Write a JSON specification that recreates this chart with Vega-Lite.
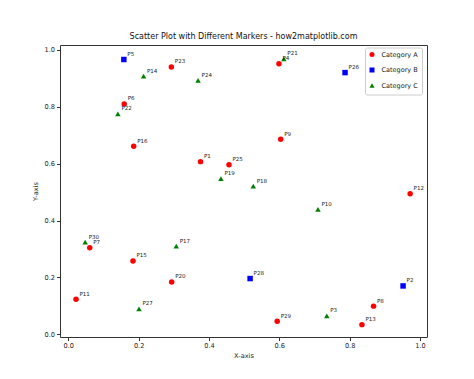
{
  "$schema": "https://vega.github.io/schema/vega-lite/v6.json",
  "autosize": "none",
  "width": 367,
  "height": 292,
  "padding": {"left": 60, "top": 45, "right": 47, "bottom": 42},
  "background": "white",
  "config": {
    "font": "DejaVu Sans",
    "view": {"stroke": "#333333", "strokeWidth": 1},
    "axis": {"grid": false, "domain": false, "tickColor": "#333333", "tickSize": 3.5, "labelFontSize": 6.6, "labelColor": "#222222", "titleFontSize": 6.6, "titleFontWeight": "normal", "titleColor": "#222222", "labelPadding": 2}
  },
  "title": {"text": "Scatter Plot with Different Markers - how2matplotlib.com", "fontSize": 8, "fontWeight": "normal", "color": "#111111", "offset": 4, "anchor": "middle"},
  "data": {"values": [
    {"label": "P1", "x": 0.376, "y": 0.607, "category": "Category A"},
    {"label": "P2", "x": 0.952, "y": 0.170, "category": "Category B"},
    {"label": "P3", "x": 0.735, "y": 0.065, "category": "Category C"},
    {"label": "P4", "x": 0.599, "y": 0.951, "category": "Category A"},
    {"label": "P5", "x": 0.158, "y": 0.966, "category": "Category B"},
    {"label": "P6", "x": 0.159, "y": 0.810, "category": "Category A"},
    {"label": "P7", "x": 0.061, "y": 0.304, "category": "Category A"},
    {"label": "P8", "x": 0.868, "y": 0.099, "category": "Category A"},
    {"label": "P9", "x": 0.604, "y": 0.686, "category": "Category A"},
    {"label": "P10", "x": 0.710, "y": 0.439, "category": "Category C"},
    {"label": "P11", "x": 0.022, "y": 0.123, "category": "Category A"},
    {"label": "P12", "x": 0.972, "y": 0.494, "category": "Category A"},
    {"label": "P13", "x": 0.835, "y": 0.034, "category": "Category A"},
    {"label": "P14", "x": 0.214, "y": 0.908, "category": "Category C"},
    {"label": "P15", "x": 0.184, "y": 0.258, "category": "Category A"},
    {"label": "P16", "x": 0.186, "y": 0.661, "category": "Category A"},
    {"label": "P17", "x": 0.307, "y": 0.310, "category": "Category C"},
    {"label": "P18", "x": 0.526, "y": 0.521, "category": "Category C"},
    {"label": "P19", "x": 0.434, "y": 0.547, "category": "Category C"},
    {"label": "P20", "x": 0.294, "y": 0.184, "category": "Category A"},
    {"label": "P21", "x": 0.613, "y": 0.968, "category": "Category C"},
    {"label": "P22", "x": 0.141, "y": 0.775, "category": "Category C"},
    {"label": "P23", "x": 0.293, "y": 0.940, "category": "Category A"},
    {"label": "P24", "x": 0.369, "y": 0.893, "category": "Category C"},
    {"label": "P25", "x": 0.457, "y": 0.596, "category": "Category A"},
    {"label": "P26", "x": 0.787, "y": 0.920, "category": "Category B"},
    {"label": "P27", "x": 0.201, "y": 0.089, "category": "Category C"},
    {"label": "P28", "x": 0.517, "y": 0.196, "category": "Category B"},
    {"label": "P29", "x": 0.594, "y": 0.046, "category": "Category A"},
    {"label": "P30", "x": 0.048, "y": 0.324, "category": "Category C"}
  ]},
  "encoding": {
    "x": {"field": "x", "type": "quantitative", "title": "X-axis",
      "scale": {"domain": [-0.0236, 1.02], "nice": false, "zero": false},
      "axis": {"values": [0, 0.2, 0.4, 0.6, 0.8, 1.0], "format": ".1f", "titlePadding": 3}},
    "y": {"field": "y", "type": "quantitative", "title": "Y-axis",
      "scale": {"domain": [-0.0095, 1.017], "nice": false, "zero": false},
      "axis": {"values": [0, 0.2, 0.4, 0.6, 0.8, 1.0], "format": ".1f", "titlePadding": 6}}
  },
  "layer": [
    {
      "mark": {"type": "point", "filled": true, "opacity": 1, "size": 30},
      "encoding": {
        "color": {"field": "category", "type": "nominal",
          "scale": {"domain": ["Category A", "Category B", "Category C"], "range": ["#ff0000", "#0000ff", "#008000"]},
          "legend": {"title": null, "orient": "none", "legendX": 305, "legendY": 2.5, "labelFontSize": 6.5, "labelColor": "#222222", "symbolSize": 25, "labelOffset": 6, "rowPadding": 4.5, "padding": 3.5, "strokeColor": "#cccccc", "fillColor": "white", "cornerRadius": 2, "symbolOpacity": 1}},
        "shape": {"field": "category", "type": "nominal",
          "scale": {"domain": ["Category A", "Category B", "Category C"], "range": ["circle", "square", "triangle-up"]},
          "legend": {"title": null, "orient": "none", "legendX": 305, "legendY": 2.5}}
      }
    },
    {
      "mark": {"type": "text", "align": "left", "baseline": "alphabetic", "dx": 3.5, "dy": -3.5, "fontSize": 5.5, "color": "#222222"},
      "encoding": {"text": {"field": "label", "type": "nominal"}}
    }
  ]
}
